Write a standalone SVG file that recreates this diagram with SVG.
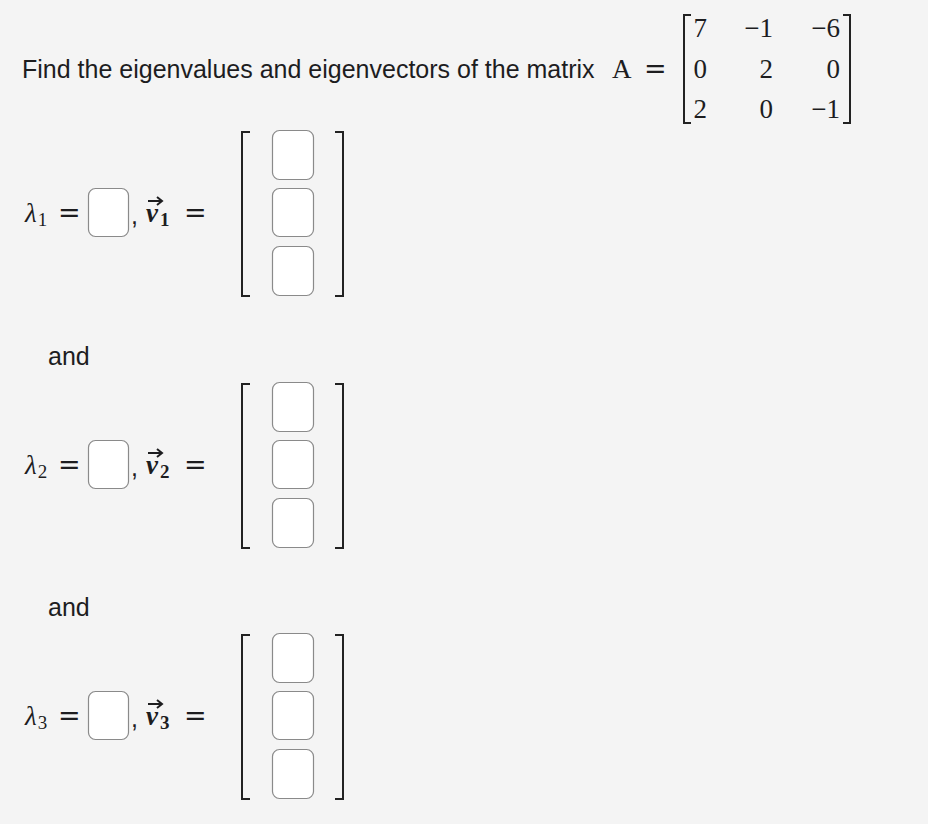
<svg xmlns="http://www.w3.org/2000/svg" width="928" height="824" viewBox="0 0 928 824">
<style>
.s{font-family:"Liberation Sans",Arial,sans-serif;font-size:25px;fill:#1d1d1f}
.m{font-family:"Liberation Serif","Times New Roman",serif;font-size:27px;fill:#1d1d1f}
.e{font-family:"DejaVu Serif",serif;font-size:27px;fill:#1d1d1f}
.b{fill:#fff;stroke:#8a8a8a;stroke-width:1.2}
.br{fill:none;stroke:#222;stroke-width:2}
.ar{fill:none;stroke:#1d1d1f;stroke-width:2}
</style>
<defs>
<g id="row">
<rect class="b" x="88.5" y="188.5" width="40" height="48" rx="7"/>
<text class="s" x="131" y="224">,</text>
<text class="e" x="184" y="222">=</text>
<path class="br" d="M250 132 H242 V296 H250 M335 132 H343 V296 H335"/>
<rect class="b" x="272.5" y="130.5" width="41" height="49" rx="7"/>
<rect class="b" x="272.5" y="188.5" width="41" height="48" rx="7"/>
<rect class="b" x="272.5" y="246.5" width="41" height="49" rx="7"/>
<text class="e" x="58" y="222">=</text>
<path class="ar" d="M148 201 H161 M157 197 L162 201 L157 205"/>
</g>
</defs>
<rect width="928" height="824" fill="#f4f4f4"/>
<text class="s" x="22" y="78">Find the eigenvalues and eigenvectors of the matrix</text>
<text class="m" x="612" y="78">A</text>
<text class="e" x="644" y="78">=</text>
<path class="br" d="M691 15 H684 V123 H691 M843 15 H850 V123 H843"/>
<g class="m" text-anchor="end" font-size="25">
<text x="707" y="37">7</text><text x="773" y="37">−1</text><text x="840" y="37">−6</text>
<text x="707" y="78">0</text><text x="773" y="78">2</text><text x="840" y="78">0</text>
<text x="707" y="118">2</text><text x="773" y="118">0</text><text x="840" y="118">−1</text>
</g>
<g id="r1"><use href="#row"/>
<text class="m" x="25" y="222" font-style="italic">λ<tspan font-size="19" dx="1" dy="4" font-style="normal">1</tspan></text>
<text class="m" x="146" y="222" font-style="italic" font-weight="bold">v<tspan font-size="19" dx="2" dy="4" font-style="normal">1</tspan></text></g>
<text class="s" x="48" y="365">and</text>
<g id="r2" transform="translate(0,252)"><use href="#row"/>
<text class="m" x="25" y="222" font-style="italic">λ<tspan font-size="19" dx="1" dy="4" font-style="normal">2</tspan></text>
<text class="m" x="146" y="222" font-style="italic" font-weight="bold">v<tspan font-size="19" dx="2" dy="4" font-style="normal">2</tspan></text></g>
<text class="s" x="48" y="616">and</text>
<g id="r3" transform="translate(0,503)"><use href="#row"/>
<text class="m" x="25" y="222" font-style="italic">λ<tspan font-size="19" dx="1" dy="4" font-style="normal">3</tspan></text>
<text class="m" x="146" y="222" font-style="italic" font-weight="bold">v<tspan font-size="19" dx="2" dy="4" font-style="normal">3</tspan></text></g>
</svg>
